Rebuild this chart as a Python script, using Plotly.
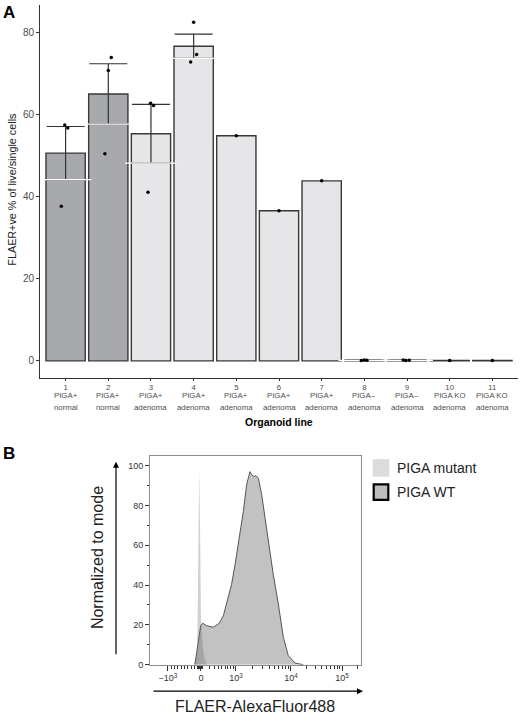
import math
import pandas as pd
import plotly.graph_objects as go

# ---- Panel A: FLAER+ve % per organoid line (replicate values) ----
line_ids = ['1', '2', '3', '4', '5', '6', '7', '8', '9', '10', '11']
genotype = ['PIGA+', 'PIGA+', 'PIGA+', 'PIGA+', 'PIGA+', 'PIGA+', 'PIGA+',
            'PIGA–', 'PIGA–', 'PIGA KO', 'PIGA KO']
tissue = ['normal', 'normal', 'adenoma', 'adenoma', 'adenoma', 'adenoma',
          'adenoma', 'adenoma', 'adenoma', 'adenoma', 'adenoma']
replicates = [
    [37.7, 57.5, 56.8],
    [74.0, 70.8, 50.5],
    [62.8, 62.3, 41.1],
    [82.6, 74.7, 72.9],
    [54.9],
    [36.6],
    [43.9],
    [0.1, 0.2, 0.15],
    [0.2, 0.1, 0.15],
    [0.1],
    [0.1],
]
# horizontal jitter of the replicate dots
jitter = [[-0.10, -0.02, 0.05], [0.07, 0.0, -0.08], [-0.01, 0.06, -0.07],
          [0.0, 0.07, -0.07], [0.0], [0.0], [0.0], [-0.07, 0.0, 0.06],
          [-0.09, -0.03, 0.05], [0.0], [0.0]]

# ---- Panel B: FLAER histograms (channel units of biexponential axis) ----
wt_channel = [218, 234, 246, 256, 275, 307, 336, 356, 372, 396, 413, 437, 453,
              469, 485, 494, 505, 514, 526, 542, 558, 574, 598, 623, 647, 671,
              704, 744]
wt_mode_pct = [0, 10.5, 19.6, 20.8, 19.6, 18.8, 20.8, 24.6, 30.4, 40.4, 50.4,
               65.4, 77.0, 90.4, 97.0, 95.4, 94.5, 95.0, 93.7, 85.4, 73.7, 62.0,
               45.4, 30.4, 13.8, 4.6, 0.8, 0]
mut_channel = [213, 227, 231, 235, 239, 244, 247, 255, 264, 277]
mut_mode_pct = [0, 5, 20, 60, 99.5, 60, 25, 10, 3, 0]
tick_channels = [87, 247, 417, 684, 932]
tick_labels = ['−10<sup>3</sup>', '0', '10<sup>3</sup>', '10<sup>4</sup>', '10<sup>5</sup>']

rows = []
for i, vals in enumerate(replicates):
    for v, j in zip(vals, jitter[i]):
        rows.append({'line': i + 1, 'value': v, 'xj': i + 1 + j})
df = pd.DataFrame(rows)
summ = df.groupby('line')['value'].agg(['mean', 'sem', 'count']).reset_index()
has_err = summ[summ['count'] > 1]

dark_fill = '#a8a9ac'
light_fill = '#e6e6e8'
bar_colors = [dark_fill if t == 'normal' else light_fill for t in tissue]
FONT = 'Liberation Sans, Arial, sans-serif'
W, H = 520, 721

fig = go.Figure()

fig.add_trace(go.Bar(
    x=summ['line'], y=summ['mean'], width=0.92,
    marker=dict(color=bar_colors, line=dict(color='#383838', width=1.4)),
    xaxis='x', yaxis='y', showlegend=False))

fig.add_trace(go.Scatter(
    x=has_err['line'], y=has_err['mean'], mode='markers',
    marker=dict(size=0.1, color='rgba(0,0,0,0)'),
    error_y=dict(type='data', array=has_err['sem'], arrayminus=has_err['sem'],
                 color='#333333', thickness=1.2, width=19),
    xaxis='x', yaxis='y', showlegend=False))

# lower caps appear white in the original
fig.add_trace(go.Scatter(
    x=has_err['line'], y=has_err['mean'] - has_err['sem'], mode='markers',
    marker=dict(symbol='line-ew', size=37, line=dict(color='white', width=1.3)),
    xaxis='x', yaxis='y', showlegend=False))

fig.add_trace(go.Scatter(
    x=df['xj'], y=df['value'], mode='markers',
    marker=dict(size=3.5, color='black'),
    xaxis='x', yaxis='y', showlegend=False))

# histograms
fig.add_trace(go.Scatter(
    x=wt_channel, y=wt_mode_pct, mode='lines', fill='tozeroy',
    fillcolor='rgba(80,80,80,0.35)', line=dict(color='#555555', width=1),
    xaxis='x2', yaxis='y2', showlegend=False))
fig.add_trace(go.Scatter(
    x=mut_channel, y=mut_mode_pct, mode='lines', fill='tozeroy',
    fillcolor='rgba(100,100,100,0.3)', line=dict(width=0),
    xaxis='x2', yaxis='y2', showlegend=False))

minor_x = []
for k in range(1, 10):
    minor_x.append(247 - (247 - 87) * k / 10)
    minor_x.append(247 + 170 * (0.5 * k / 10 + 0.5 * math.log10(k)))
    minor_x.append(417 + (684 - 417) * math.log10(k))
    minor_x.append(684 + (932 - 684) * math.log10(k))
minor_x += [932 + (932 - 684) * math.log10(k) for k in (2, 3)]
minor_x += [237, 240, 243, 251, 254, 257]

fig.update_layout(
    width=W, height=H,
    margin=dict(l=0, r=0, t=0, b=0),
    paper_bgcolor='white', plot_bgcolor='white',
    font=dict(family=FONT, color='#222222'),
    xaxis=dict(domain=[40 / W, 518 / W], anchor='y', range=[0.4, 11.6],
               tickmode='array', tickvals=list(range(1, 12)), ticktext=line_ids,
               tickfont=dict(size=7.8, color='#4d4d4d'),
               showline=True, linecolor='#333333', linewidth=1,
               ticks='outside', ticklen=2, tickcolor='#333333',
               showgrid=False, zeroline=False),
    yaxis=dict(domain=[1 - 380.7 / H, 1 - 5 / H], anchor='x', range=[-4.2, 86.8],
               tickvals=[0, 20, 40, 60, 80], tickfont=dict(size=10, color='#4d4d4d'),
               showline=True, linecolor='#333333', linewidth=1,
               ticks='outside', ticklen=3, tickcolor='#333333',
               showgrid=False, zeroline=False),
    xaxis2=dict(domain=[150 / W, 361 / W], anchor='y2', range=[0, 1024],
                tickmode='array', tickvals=tick_channels, ticktext=tick_labels,
                tickfont=dict(size=9, color='#333333'),
                showline=True, mirror=True, linecolor='#8c8c8c', linewidth=1,
                ticks='outside', ticklen=5, tickcolor='#333333',
                minor=dict(tickmode='array', tickvals=minor_x, ticks='outside',
                           ticklen=3, tickcolor='#333333'),
                showgrid=False, zeroline=False),
    yaxis2=dict(domain=[1 - 669.3 / H, 1 - 459.3 / H], anchor='x2', range=[0, 104.8],
                tickvals=[0, 20, 40, 60, 80, 100], tickfont=dict(size=9, color='#333333'),
                showline=True, mirror=True, linecolor='#8c8c8c', linewidth=1,
                ticks='outside', ticklen=4, tickcolor='#333333',
                minor=dict(dtick=10, ticks='outside', ticklen=2, tickcolor='#333333'),
                showgrid=False, zeroline=False),
)

annotations = [
    dict(text='<b>A</b>', x=0.002, y=0.999, xanchor='left', yanchor='top',
         font=dict(size=17, color='black')),
    dict(text='<b>B</b>', x=0.002, y=1 - 457 / H, xanchor='left', yanchor='middle',
         font=dict(size=17, color='black')),
    dict(text='<b>Organoid line</b>', x=279 / W, y=1 - 425 / H,
         xanchor='center', yanchor='middle', font=dict(size=10.5, color='black')),
    dict(text='FLAER+ve % of live/single cells', x=12 / W, y=1 - 191 / H,
         textangle=-90, xanchor='center', yanchor='middle',
         font=dict(size=10.8, color='#222222')),
    dict(text='Normalized to mode', x=97 / W, y=1 - 562 / H, textangle=-90,
         xanchor='center', yanchor='middle', font=dict(size=16, color='#222222')),
    dict(text='FLAER-AlexaFluor488', x=255 / W, y=1 - 711 / H,
         xanchor='center', yanchor='middle', font=dict(size=16, color='#222222')),
    dict(text='PIGA mutant', x=395 / W, y=1 - 471 / H, xanchor='left',
         yanchor='middle', font=dict(size=14, color='#222222')),
    dict(text='PIGA WT', x=395 / W, y=1 - 495.5 / H, xanchor='left',
         yanchor='middle', font=dict(size=14, color='#222222')),
    # axis arrows of panel B
    dict(text='', x=116 / W, y=1 - 465 / H, ax=0, ay=194, showarrow=True,
         arrowhead=2, arrowsize=1, arrowwidth=1.2, arrowcolor='black'),
    dict(text='', x=363 / W, y=1 - 696 / H, ax=-211, ay=0, showarrow=True,
         arrowhead=2, arrowsize=1, arrowwidth=1.2, arrowcolor='black'),
]
# second and third rows of the category labels (genotype, tissue)
for i, (g, t) in enumerate(zip(genotype, tissue)):
    annotations.append(dict(text=g, x=i + 1, xref='x', y=1 - 398.3 / H,
                            xanchor='center', yanchor='middle',
                            font=dict(size=7.8, color='#4d4d4d')))
    annotations.append(dict(text=t, x=i + 1, xref='x', y=1 - 410.5 / H,
                            xanchor='center', yanchor='middle',
                            font=dict(size=7.8, color='#4d4d4d')))
for a in annotations:
    a.setdefault('xref', 'paper')
    a.setdefault('yref', 'paper')
    a.setdefault('showarrow', False)
fig.update_layout(annotations=annotations)

fig.update_layout(shapes=[
    dict(type='rect', xref='paper', yref='paper', x0=372.7 / W, x1=389.3 / W,
         y0=1 - 480 / H, y1=1 - 462.3 / H, fillcolor='#dcdcdc', line=dict(width=0)),
    dict(type='rect', xref='paper', yref='paper', x0=373.7 / W, x1=388.3 / W,
         y0=1 - 503.3 / H, y1=1 - 487.7 / H, fillcolor='#bdbdbd',
         line=dict(color='black', width=2.2)),
])

# the page has a default 8px body margin; drop it so the figure fills the window
fig.write_html("out.html", config={'displayModeBar': False},
               post_script="document.body.style.margin = '0';")
